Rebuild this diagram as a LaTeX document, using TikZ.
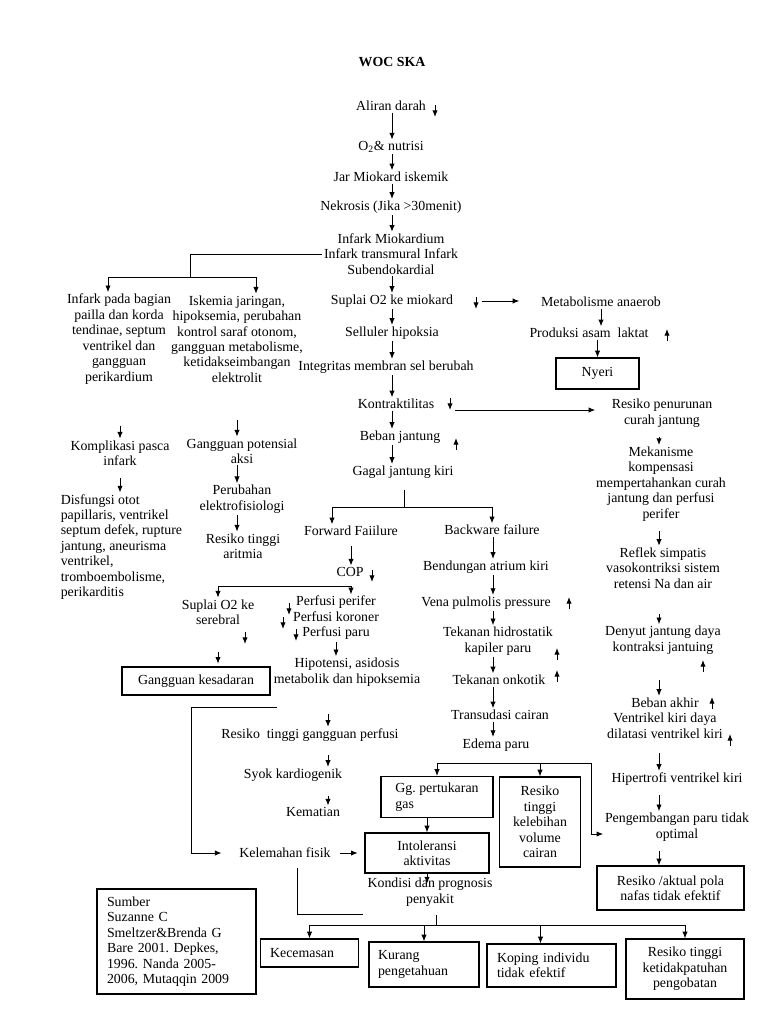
\documentclass[tikz,border=0pt]{standalone}
\usepackage{fontspec}
\setmainfont{Liberation Serif}
\usetikzlibrary{arrows,arrows.meta,positioning,calc}
\frenchspacing

\begin{document}
\begin{tikzpicture}[x=0.75pt,y=-0.75pt,>={Latex[length=5pt,width=4pt]},line width=0.7pt,
  every node/.style={font=\fontsize{10.4}{11.6}\selectfont,inner sep=1pt,align=center},
  kotak/.style={draw,line width=0.9pt,inner sep=0pt},
  kotakkiri/.style={draw,line width=0.9pt,align=left,inner ysep=0pt}]
\useasboundingbox (0,0) rectangle (768,1024);
\fill[white] (0,0) rectangle (768,1024);

% kolom panah
\coordinate (tengah) at (392,0);
\coordinate (kanan) at (493,0);
\coordinate (kolom) at (659,0);
\coordinate (kolomB) at (328,0);

\node[font=\fontsize{10.4}{12}\selectfont\bfseries] (judul) at (392,62) {WOC SKA};

% jalur tengah
\node (aliran) at (391,106) {Aliran darah};
\node (o2) at (391,147) {O\textsubscript{2}\& nutrisi};
\node (jar) at (391,177) {Jar Miokard iskemik};
\node (nekrosis) at (391,207) {Nekrosis (Jika >30menit)};
\node (infark) at (391,254) {Infark Miokardium\\Infark transmural Infark\\Subendokardial};
\node (suplai) at (392,301) {Suplai O2 ke miokard};
\node (selluler) at (392,333) {Selluler hipoksia};
\node (integritas) at (386,367) {Integritas membran sel berubah};
\node (kontraktilitas) at (396,404) {Kontraktilitas};
\node (beban) at (400,437) {Beban jantung};
\node (gagal) at (403,472) {Gagal jantung kiri};

% cabang kiri
\node (infpada) at (119,339) {Infark pada bagian\\pailla dan korda\\tendinae, septum\\ventrikel dan\\gangguan\\perikardium};
\node (iskemia) at (237,339) {Iskemia jaringan,\\hipoksemia, perubahan\\kontrol saraf otonom,\\gangguan metabolisme,\\ketidakseimbangan\\elektrolit};
\node (komplikasi) at (120,453) {Komplikasi pasca\\infark};
\node[align=left,anchor=west] (disfungsi) at (59,547) {Disfungsi otot\\papillaris, ventrikel\\septum defek, rupture\\jantung, aneurisma\\ventrikel,\\tromboembolisme,\\perikarditis};
\node (potensial) at (242,451) {Gangguan potensial\\aksi};
\node (elektro) at (242,499) {Perubahan\\elektrofisiologi};
\node (aritmia) at (243,546) {Resiko tinggi\\aritmia};

% forward
\node (forward) at (351,531) {Forward Faiilure};
\node (cop) at (350,572) {COP};
\node (serebral) at (218,612) {Suplai O2 ke\\serebral};
\node (perfusi) at (336,618) {Perfusi perifer\\Perfusi koroner\\Perfusi paru};
\node[kotak,minimum width=111pt,minimum height=21pt] (kesadaran) at (196,681) {Gangguan kesadaran};
\node (hipotensi) at (347,672) {Hipotensi, asidosis\\metabolik dan hipoksemia};
\node (perfusirisk) at (310,735) {Resiko\ \ tinggi gangguan perfusi};
\node (syok) at (293,775) {Syok kardiogenik};
\node (kematian) at (313,812) {Kematian};
\node (kelemahan) at (285,853) {Kelemahan fisik};

% backward
\node (backward) at (492,530) {Backware failure};
\node (bendungan) at (486,567) {Bendungan atrium kiri};
\node (vena) at (486,603) {Vena pulmolis pressure};
\node (hidrostatik) at (498,641) {Tekanan hidrostatik\\kapiler paru};
\node (onkotik) at (499,680) {Tekanan onkotik};
\node (transudasi) at (500,715) {Transudasi cairan};
\node (edema) at (496,745) {Edema paru};

% diagnosa bawah
\node[kotakkiri,minimum width=84pt,minimum height=30.75pt] (pertukaran) at (437,797) {Gg. pertukaran\\gas};
\node[kotak,minimum width=60.75pt,minimum height=67.5pt] (kelebihan) at (540,822) {Resiko\\tinggi\\kelebihan\\volume\\cairan};
\node[kotak,minimum width=93pt,minimum height=30pt] (intoleransi) at (427,853) {Intoleransi\\aktivitas};
\node (kondisi) at (430,892) {Kondisi dan prognosis\\penyakit};
\node[kotakkiri,text width=59pt,inner xsep=7.5pt,minimum height=21pt] (cemas) at (309.5,953) {Kecemasan};
\node[kotakkiri,text width=69pt,inner xsep=6.75pt,minimum height=33.75pt] (kurang) at (424,964.5) {Kurang\\pengetahuan};
\node[kotakkiri,text width=81.75pt,inner xsep=7.5pt,minimum height=32.25pt] (koping) at (551.5,965.5) {Koping individu\\tidak efektif};
\node[kotak,minimum width=88.5pt,minimum height=45pt] (patuh) at (685,969) {Resiko tinggi\\ketidakpatuhan\\pengobatan};
\node[kotakkiri,text width=104.25pt,inner xsep=7.5pt,minimum height=78.75pt] (sumber) at (176.5,941.5) {Sumber\\Suzanne C\\Smeltzer\&Brenda G\\Bare 2001. Depkes,\\1996. Nanda 2005-\\2006, Mutaqqin 2009};

% kolom kanan
\node (metabolisme) at (601,302) {Metabolisme anaerob};
\node (laktat) at (589,333) {Produksi asam\ \ laktat};
\node[kotak,minimum width=62.25pt,minimum height=23.25pt] (nyeri) at (597.5,373.5) {Nyeri};
\node (penurunan) at (662,413) {Resiko penurunan\\curah jantung};
\node (mekanisme) at (661,484) {Mekanisme\\kompensasi\\mempertahankan curah\\jantung dan perfusi\\perifer};
\node (reflek) at (663,568) {Reflek simpatis\\vasokontriksi sistem\\retensi Na dan air};
\node (denyut) at (663,640) {Denyut jantung daya\\kontraksi jantuing};
\node (akhir) at (665,718) {Beban akhir\\Ventrikel kiri daya\\dilatasi ventrikel kiri};
\node (hipertrofi) at (677,779) {Hipertrofi ventrikel kiri};
\node (pengembangan) at (677,827) {Pengembangan paru tidak\\optimal};
\node[kotak,minimum width=110.25pt,minimum height=33pt] (aktual) at (670.5,888) {Resiko /aktual pola\\nafas tidak efektif};

% panah tengah
\draw[->] (aliran.south -| tengah) -- (o2.north -| tengah);
\draw[->] (o2.south -| tengah) -- (jar.north -| tengah);
\draw[->] (jar.south -| tengah) -- (nekrosis.north -| tengah);
\draw[->] (nekrosis.south -| tengah) -- (infark.north -| tengah);
\draw[->] (infark.south -| tengah) -- (suplai.north -| tengah);
\draw[->] (suplai.south -| tengah) -- (selluler.north -| tengah);
\draw[->] (selluler.south -| tengah) -- (integritas.north -| tengah);
\draw[->] (integritas.south -| tengah) -- (kontraktilitas.north -| tengah);
\draw[->] (kontraktilitas.south -| tengah) -- (beban.north -| tengah);
\draw[->] (beban.south -| tengah) -- (gagal.north -| tengah);

% cabang infark
\coordinate (isplit) at (190,277);
\draw (infark.west) -| (isplit);
\draw[->] (isplit) -| ([xshift=-8.25pt]infpada.north);
\draw[->] (isplit) -| ([xshift=14.25pt]iskemia.north);
\draw[->,shorten <=30pt] (komplikasi.north |- infpada.south) -- (komplikasi.north);
\draw[->,shorten <=27pt] (iskemia.south) -- (iskemia.south |- potensial.north);
\draw[->,shorten <=8pt] (komplikasi.south) -- (komplikasi.south |- disfungsi.north);
\draw[->] (potensial.south -| iskemia) -- (elektro.north -| iskemia);
\draw[->] (elektro.south -| iskemia) -- (aritmia.north -| iskemia);

% gagal jantung
\coordinate (gsplit) at (404,507);
\draw (gsplit) -- ++(0,-17);
\draw[->] (gsplit) -| ([xshift=-14.25pt]forward.north);
\draw[->] (gsplit) -| (backward.north);
\draw[->,shorten <=6pt] (forward.south) -- (forward.south |- cop.north);
\coordinate (csplit) at (351,586);
\draw[->] (csplit) -| (serebral.north);
\draw[->] (csplit) -- (csplit |- perfusi.north);
\draw[->,shorten <=19pt,shorten >=2pt] (serebral.south) -- (serebral.south |- kesadaran.north);
\draw[->] (perfusi.south) -- (perfusi.south |- hipotensi.north);
\draw[->,shorten <=19.5pt] (hipotensi.south -| kolomB) -- (perfusirisk.north -| kolomB);
\draw[->,shorten <=9pt] (perfusirisk.south -| kolomB) -- (syok.north -| kolomB);
\draw[->,shorten <=10pt] (syok.south -| kolomB) -- (kematian.north -| kolomB);
\coordinate (kiriA) at (277,707);
\coordinate (kiriB) at (191,853);
\draw[->,shorten >=12pt] (kiriA) -| (kiriB) -- (kelemahan.west);
\draw[->,shorten <=6pt,shorten >=5pt] (kelemahan.east) -- (intoleransi.west);
\coordinate (bawahA) at (297,868);
\coordinate (bawahB) at (363,914);
\draw (bawahA) |- (bawahB);

% backward
\draw[->] (backward.south -| kanan) -- (bendungan.north -| kanan);
\draw[->] (bendungan.south -| kanan) -- (vena.north -| kanan);
\draw[->] (vena.south -| kanan) -- (hidrostatik.north -| kanan);
\draw[->] (hidrostatik.south -| kanan) -- (onkotik.north -| kanan);
\draw[->] (onkotik.south -| kanan) -- (transudasi.north -| kanan);
\draw[->] (transudasi.south -| kanan) -- (edema.north -| kanan);
\coordinate (esplit) at (496,763);
\coordinate (ekor) at (591,834);
\draw[->] (esplit) -| (pertukaran.north);
\draw[->] (esplit) -| (kelebihan.north);
\draw[->] (esplit) -| (ekor) -- (ekor -| pengembangan.west);
\draw[->] (intoleransi.north |- pertukaran.south) -- (intoleransi.north);
\draw[->] (intoleransi.south) -- ++(0,10);
\coordinate (ksplit) at (436,925);
\draw (ksplit) -- ++(0,-10);
\draw[->] (ksplit) -| (cemas.north);
\draw[->] (ksplit) -| (kurang.north);
\draw[->] (ksplit) -| ([xshift=-8.25pt]koping.north);
\draw[->] (ksplit) -| (patuh.north);

% kolom kanan
\draw[->,shorten <=20pt,shorten >=15pt] (suplai.east) -- (suplai.east -| metabolisme.west);
\draw[->] (metabolisme.south) -- (metabolisme.south |- laktat.north);
\draw[->] (nyeri.north |- laktat.south) -- (nyeri.north);
\coordinate (kA) at (455,410);
\draw[->,shorten >=11pt] (kA) -- (kA -| penurunan.west);
\draw[->,shorten <=6pt] (penurunan.south -| kolom) -- (mekanisme.north -| kolom);
\draw[->,shorten <=6pt] (mekanisme.south -| kolom) -- (reflek.north -| kolom);
\draw[->,shorten <=18pt] (reflek.south -| kolom) -- (denyut.north -| kolom);
\draw[->,shorten <=18pt] (denyut.south -| kolom) -- (akhir.north -| kolom);
\draw[->,shorten <=10pt] (akhir.south -| kolom) -- (hipertrofi.north -| kolom);
\draw[->,shorten <=6pt] (hipertrofi.south -| kolom) -- (pengembangan.north -| kolom);
\draw[->,shorten <=6pt] (pengembangan.south -| kolom) -- (aktual.north -| kolom);

% tanda turun / naik
\foreach \x/\y in {435/111, 476/303, 450/404, 372/576, 289/609, 283/623, 296/635, 245/638}
  \draw[->] (\x,\y) ++(0,-6) -- ++(0,12);
\foreach \x/\y in {667/335, 456/444, 569/603, 557/654, 557/676, 703/666, 712/703, 730/740}
  \draw[->] (\x,\y) ++(0,6) -- ++(0,-12);
\end{tikzpicture}
\end{document}
